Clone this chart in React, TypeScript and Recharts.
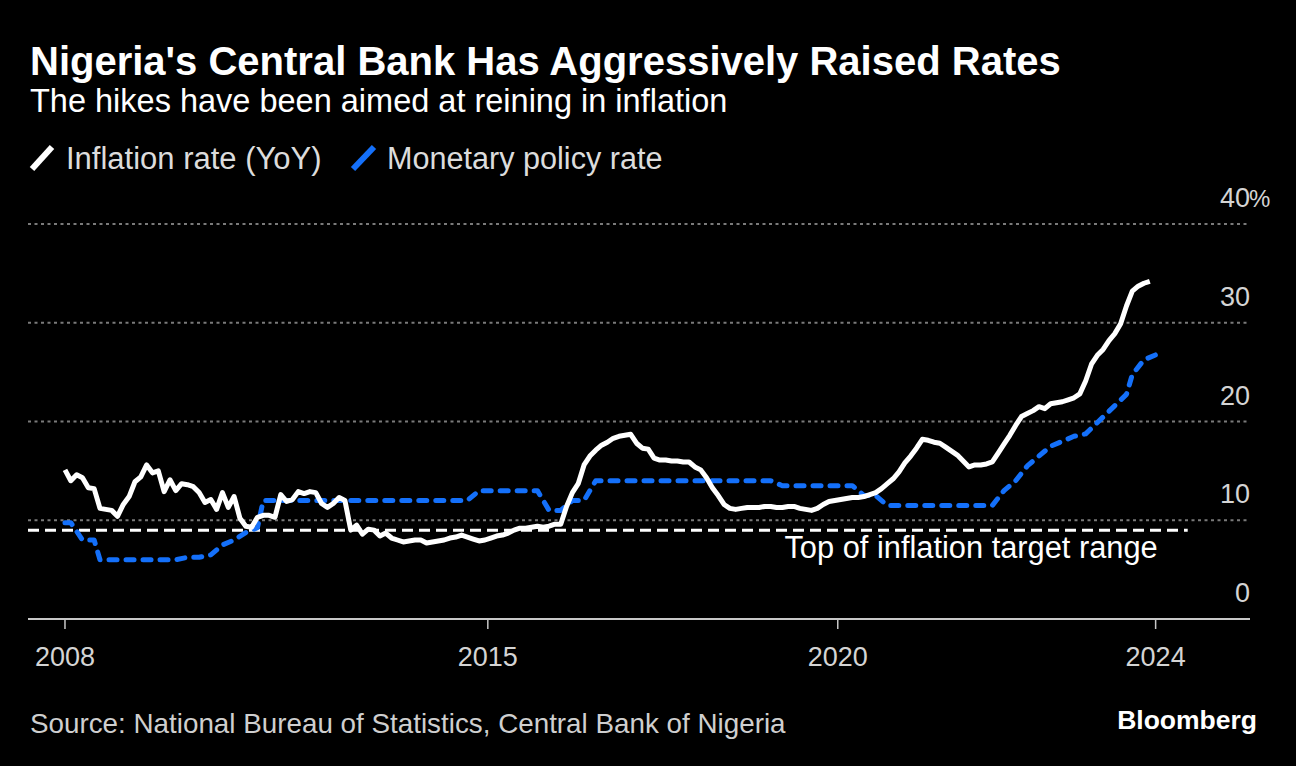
import { CartesianGrid, Line, LineChart, ReferenceLine, XAxis, YAxis } from 'recharts'

// Nigeria headline CPI, year-on-year %, monthly from Dec 2008
const inflationStart = '2008-12'
const inflation: number[] = [
  15.1,
  14.0, 14.6, 14.3, 13.3, 13.2, 11.2, 11.1, 11.0, 10.4, 11.6, 12.4, 13.9,
  14.4, 15.6, 14.8, 15.0, 12.9, 14.1, 13.0, 13.7, 13.6, 13.4, 12.8, 11.8,
  12.1, 11.1, 12.8, 11.3, 12.4, 10.2, 9.4, 9.3, 10.3, 10.5, 10.5, 10.3,
  12.6, 11.9, 12.1, 12.9, 12.7, 12.9, 12.8, 11.7, 11.3, 11.7, 12.3, 12.0,
  9.0, 9.5, 8.6, 9.1, 9.0, 8.4, 8.7, 8.2, 8.0, 7.8, 7.9, 8.0,
  8.0, 7.7, 7.8, 7.9, 8.0, 8.2, 8.3, 8.5, 8.3, 8.1, 7.9, 8.0,
  8.2, 8.4, 8.5, 8.7, 9.0, 9.2, 9.2, 9.3, 9.4, 9.3, 9.4, 9.6,
  9.6, 11.4, 12.8, 13.7, 15.6, 16.5, 17.1, 17.6, 17.9, 18.3, 18.5, 18.6,
  18.7, 17.8, 17.3, 17.2, 16.3, 16.1, 16.1, 16.0, 16.0, 15.9, 15.9, 15.4,
  15.1, 14.3, 13.3, 12.5, 11.6, 11.2, 11.1, 11.2, 11.3, 11.3, 11.3, 11.4,
  11.4, 11.3, 11.3, 11.4, 11.4, 11.2, 11.1, 11.0, 11.2, 11.6, 11.9, 12.0,
  12.1, 12.2, 12.3, 12.3, 12.4, 12.6, 12.8, 13.2, 13.7, 14.2, 14.9, 15.8,
  16.5, 17.3, 18.2, 18.1, 17.9, 17.8, 17.4, 17.0, 16.6, 16.0, 15.4, 15.6,
  15.6, 15.7, 15.9, 16.8, 17.7, 18.6, 19.6, 20.5, 20.8, 21.1, 21.5, 21.3,
  21.8, 21.9, 22.0, 22.2, 22.4, 22.8, 24.1, 25.8, 26.7, 27.3, 28.2, 28.9,
  29.9, 31.7, 33.2, 33.7, 34.0, 34.2,
]

// CBN monetary policy rate at MPC decisions
const policyDates: string[] = [
  '2008-12', '2009-01', '2009-03', '2009-05', '2009-06', '2010-07', '2010-09', '2010-11',
  '2011-01', '2011-03', '2011-05', '2011-07', '2011-09', '2011-10', '2014-09', '2014-11',
  '2015-09', '2015-11', '2016-01', '2016-03', '2016-05', '2016-07', '2019-01', '2019-03',
  '2020-03', '2020-05', '2020-07', '2020-09', '2022-03', '2022-05', '2022-07', '2022-09',
  '2022-11', '2023-01', '2023-03', '2023-05', '2023-07', '2024-02', '2024-03', '2024-05',
  '2024-07',
]
const policyRates: number[] = [
  9.75, 9.75, 8.0, 8.0, 6.0, 6.0, 6.25, 6.25,
  6.5, 7.5, 8.0, 8.75, 9.25, 12.0, 12.0, 13.0,
  13.0, 11.0, 11.0, 12.0, 12.0, 14.0, 14.0, 13.5,
  13.5, 12.5, 12.5, 11.5, 11.5, 13.0, 14.0, 15.5,
  16.5, 17.5, 18.0, 18.5, 18.75, 22.75, 24.75, 26.25,
  26.75,
]

const targetTop = 9
const targetEnd = 2025
const yTicks = [0, 10, 20, 30, 40]
const xDomain: [number, number] = [2008.43, 2025.89]

const WHITE = '#ffffff'
const BLUE = '#1470fa'
const FONT = '"Liberation Sans", Arial, sans-serif'

// month string -> decimal year at mid-month
const toYear = (ym: string) => {
  const [y, m] = ym.split('-').map(Number)
  return y + (m - 0.5) / 12
}

const inflationData = inflation.map((value, i) => ({ t: toYear(inflationStart) + i / 12, value }))
const policyData = policyDates.map((d, i) => ({ t: toYear(d), rate: policyRates[i] }))
const xTicks = [inflationData[0].t, 2015, 2020, policyData[policyData.length - 1].t]

const YTick = (props: any) => {
  const { x, y, payload } = props
  const v = payload.value
  return (
    <g>
      <text x={x} y={y - 17} textAnchor='end' fill='#d4d4d4' fontSize={27} fontFamily={FONT}>
        {v}
      </text>
      {v === yTicks[yTicks.length - 1] && (
        <text x={x - 1} y={y - 17} textAnchor='start' fill='#d4d4d4' fontSize={24} fontFamily={FONT}>
          %
        </text>
      )}
    </g>
  )
}

// caption under the target line, right edge lined up with the last observation
const TargetLabel = (props: any) => {
  const { viewBox } = props
  return (
    <text
      x={viewBox.x + viewBox.width - 30}
      y={viewBox.y + 28}
      textAnchor='end'
      fill={WHITE}
      fontSize={30.8}
      fontFamily={FONT}
    >
      Top of inflation target range
    </text>
  )
}

const text = (top: number, left: number, size: number, color: string, bold = false) => ({
  position: 'absolute' as const,
  top,
  left,
  fontSize: size,
  lineHeight: 1,
  color,
  fontWeight: bold ? 700 : 400,
  whiteSpace: 'nowrap' as const,
})

const App = () => {
  return (
    <div
      style={{
        position: 'absolute',
        left: 0,
        top: 0,
        width: 1296,
        height: 766,
        background: '#000',
        fontFamily: FONT,
        overflow: 'hidden',
      }}
    >
      <div style={text(41, 30, 40, WHITE, true)}>Nigeria's Central Bank Has Aggressively Raised Rates</div>
      <div style={text(85, 30, 32.5, WHITE)}>The hikes have been aimed at reining in inflation</div>

      <svg style={{ position: 'absolute', left: 0, top: 0 }} width={400} height={190}>
        <line x1={32} y1={169} x2={52} y2={147} stroke={WHITE} strokeWidth={6} />
        <line x1={353} y1={169} x2={374} y2={147} stroke={BLUE} strokeWidth={6} />
      </svg>
      <div style={text(143, 66, 31, '#dcdcdc')}>Inflation rate (YoY)</div>
      <div style={text(143, 387, 30.6, '#dcdcdc')}>Monetary policy rate</div>

      <div style={{ position: 'absolute', left: 0, top: 0 }}>
        <LineChart width={1296} height={766} margin={{ top: 224, right: 46, bottom: 87, left: 28 }}>
          <CartesianGrid vertical={false} stroke='#7a7a7a' strokeWidth={2} strokeDasharray='3 3.5' />
          <XAxis
            type='number'
            dataKey='t'
            domain={xDomain}
            allowDataOverflow
            ticks={xTicks}
            interval={0}
            tickFormatter={(v: number) => String(Math.floor(v))}
            height={60}
            axisLine={{ stroke: '#c8c8c8', strokeWidth: 2 }}
            tickLine={{ stroke: '#c8c8c8', strokeWidth: 1.5 }}
            tickSize={10}
            tickMargin={18}
            tick={{ fill: '#d4d4d4', fontSize: 27, fontFamily: FONT }}
          />
          <YAxis
            orientation='right'
            mirror
            width={60}
            domain={[0, 40]}
            ticks={yTicks}
            axisLine={false}
            tickLine={false}
            tickSize={0}
            tickMargin={0}
            tick={<YTick />}
          />
          <ReferenceLine
            segment={[
              { x: xDomain[0], y: targetTop },
              { x: targetEnd, y: targetTop },
            ]}
            stroke={WHITE}
            strokeWidth={3}
            strokeDasharray='11 6'
            label={{ content: <TargetLabel /> }}
          />
          <Line
            data={policyData}
            dataKey='rate'
            type='linear'
            stroke={BLUE}
            strokeWidth={5}
            strokeDasharray='8 9'
            strokeLinecap='round'
            strokeLinejoin='round'
            dot={false}
            activeDot={false}
            isAnimationActive={false}
          />
          <Line
            data={inflationData}
            dataKey='value'
            type='linear'
            stroke={WHITE}
            strokeWidth={5}
            strokeLinejoin='round'
            dot={false}
            activeDot={false}
            isAnimationActive={false}
          />
        </LineChart>
      </div>

      <div style={text(710, 30, 27.8, '#cfcfcf')}>Source: National Bureau of Statistics, Central Bank of Nigeria</div>
      <div style={{ ...text(707, 0, 26.5, WHITE, true), left: 'auto', right: 39 }}>Bloomberg</div>
    </div>
  )
}

export default App
